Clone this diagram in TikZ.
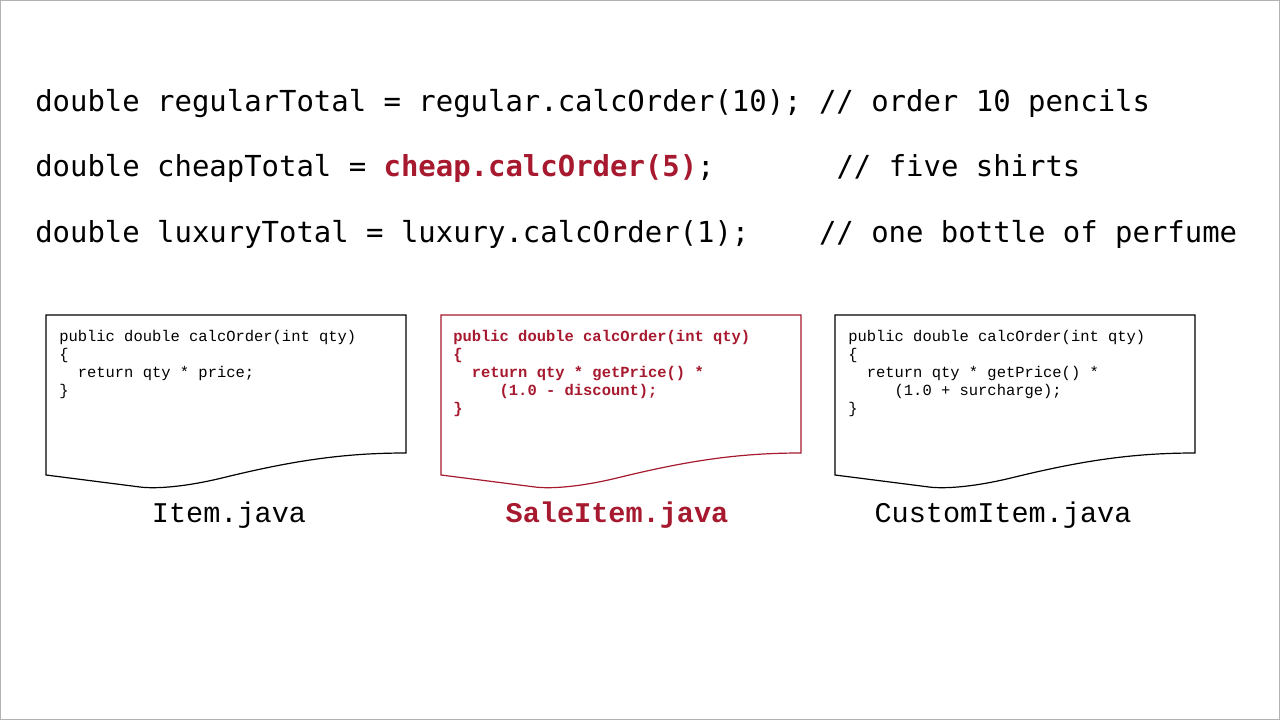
\documentclass[tikz,border=0pt]{standalone}
\usepackage{fontspec}
\setmainfont{Liberation Sans}
\newfontfamily\topmono{DejaVu Sans Mono}
\newfontfamily\boxmono{Liberation Mono}
\definecolor{salered}{HTML}{A6192E}
\tikzset{
  codeline/.style={anchor=base west, inner sep=0pt, font=\topmono\fontsize{21.7}{26}\selectfont},
  boxcode/.style={anchor=north west, inner sep=0pt, align=left, font=\boxmono\fontsize{11.6}{13.5}\selectfont},
  filename/.style={anchor=base, inner sep=0pt, font=\boxmono\fontsize{21.4}{26}\selectfont},
  doc/.style={line width=0.9pt}
}
% one document sheet with a wavy bottom edge
\newcommand{\docsheet}[3][black]{%
  \draw[doc, draw=#1] (#2+0,#3+160) -- (#2+0,#3+0) -- (#2+360,#3+0) -- (#2+360,#3+138)
    .. controls (#2+300,#3+138) and (#2+250,#3+145) .. (#2+180,#3+162)
    .. controls (#2+140,#3+172) and (#2+110,#3+174) .. (#2+94,#3+172)
    -- cycle;}
\begin{document}
\begin{tikzpicture}[x=0.75pt, y=-0.75pt]
        \useasboundingbox (0,0) rectangle (1280,720);
        \draw[gray!60, line width=1.5pt] (0,0) rectangle (1280,720);

        % calls
        \node[codeline] (regular) at (35,112) {double regularTotal = regular.calcOrder(10); // order 10 pencils};
        \node[codeline] (cheap) at (35,177) {double cheapTotal = \textcolor{salered}{\bfseries cheap.calcOrder(5)};\ \ \ \ \ \ \ // five shirts};
        \node[codeline] (luxury) at (35,243) {double luxuryTotal = luxury.calcOrder(1);\ \ \ \ // one bottle of perfume};

        % Item.java
        \docsheet{46}{315}
        \node[boxcode] (itemcode) at (59,330) {public double calcOrder(int qty)\\\{\\\ \ return qty * price;\\\}};
        \node[filename] (item) at (229,522) {Item.java};

        % SaleItem.java
        \docsheet[salered]{441}{315}
        \node[boxcode, text=salered, font=\boxmono\bfseries\fontsize{11.6}{13.5}\selectfont] (salecode) at (453,330)
            {public double calcOrder(int qty)\\\{\\\ \ return qty * getPrice() *\\\ \ \ \ \ (1.0 - discount);\\\}};
        \node[filename, text=salered, font=\boxmono\bfseries\fontsize{21.4}{26}\selectfont] (sale) at (617,522) {SaleItem.java};

        % CustomItem.java
        \docsheet{835}{315}
        \node[boxcode] (customcode) at (848,330)
            {public double calcOrder(int qty)\\\{\\\ \ return qty * getPrice() *\\\ \ \ \ \ (1.0 + surcharge);\\\}};
        \node[filename] (custom) at (1003,522) {CustomItem.java};
\end{tikzpicture}
\end{document}
